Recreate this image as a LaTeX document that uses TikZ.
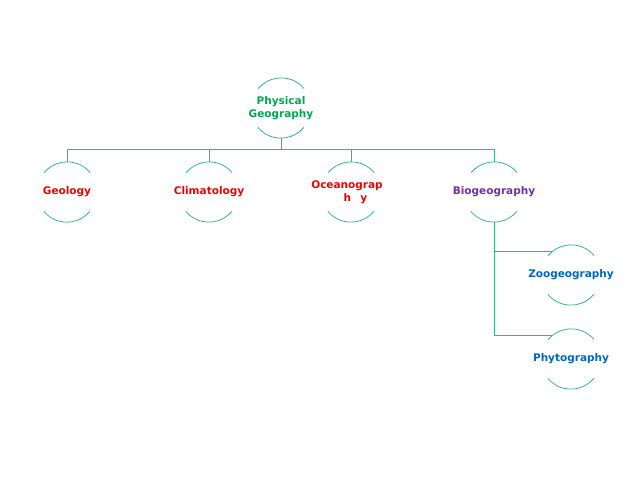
\documentclass[tikz,border=0pt]{standalone}
\usepackage{fontspec}
\setmainfont{DejaVu Sans}
\begin{document}
\begin{tikzpicture}[x=1pt,y=-1pt,
  ln/.style={draw={rgb,255:red,60;green,180;blue,130},line width=0.8pt},
  circ/.style={circle,minimum size=60pt,inner sep=0pt},
  lbl/.style={font=\bfseries\fontsize{10.5}{13}\selectfont,align=center}]
\definecolor{cgreen}{RGB}{0,165,80}
\definecolor{cred}{RGB}{235,0,0}
\definecolor{cpurple}{RGB}{112,48,160}
\definecolor{cblue}{RGB}{0,102,190}
\useasboundingbox (0,0) rectangle (638,478);
\node[circ] (pg) at (281,108) {};
\node[circ] (ge) at (67,192) {};
\node[circ] (cl) at (209,192) {};
\node[circ] (oc) at (351,192) {};
\node[circ] (bi) at (494,192) {};
\node[circ] (zo) at (571,275) {};
\node[circ] (ph) at (571,359) {};
\foreach \n in {pg,ge,cl,oc,bi,zo,ph}{
  \draw[ln] (\n.40) arc[start angle=40,end angle=140,radius=30pt];
  \draw[ln] (\n.220) arc[start angle=220,end angle=320,radius=30pt];
}
\node[lbl,text=cgreen] (pgt) at (pg) {Physical\\Geography};
\node[lbl,text=cred] (get) at (ge) {Geology};
\node[lbl,text=cred] (clt) at (cl) {Climatology};
\node[lbl,text=cred] (oct) at (347,192) {Oceanograp\\\hspace*{1.6em}h\hspace{0.9em}y};
\node[lbl,text=cpurple] (bit) at (bi) {Biogeography};
\node[lbl,text=cblue] (zot) at (zo) {Zoogeography};
\node[lbl,text=cblue] (pht) at (ph) {Phytography};
\coordinate (bus) at (pg.south |- 0,149);
\draw[ln] (pg.south) -- (bus);
\draw[ln] (ge.north) -- (ge.north |- bus) -- (bi.north |- bus) -- (bi.north);
\draw[ln] (cl.north) -- (cl.north |- bus);
\draw[ln] (oc.north) -- (oc.north |- bus);
\draw[ln] (bi.south) -- (bi.south |- zo.130) -- (zo.130);
\draw[ln] (bi.south |- zo.130) -- (bi.south |- ph.130) -- (ph.130);
\end{tikzpicture}
\end{document}
